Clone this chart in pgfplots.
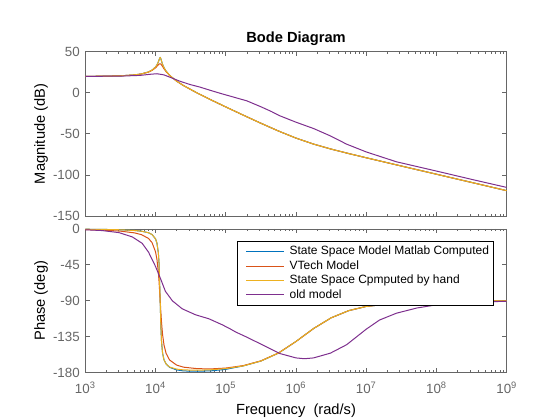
\documentclass[border=0pt]{standalone}
\usepackage{pgfplots}
\pgfplotsset{compat=1.18}
\usepackage{fontspec}
\setmainfont{Liberation Sans}
\definecolor{mblue}{rgb}{0,0.447,0.741}
\definecolor{mred}{rgb}{0.85,0.325,0.098}
\definecolor{myellow}{rgb}{0.929,0.694,0.125}
\definecolor{mpurple}{rgb}{0.494,0.184,0.556}
\definecolor{axgray}{rgb}{0.4,0.4,0.4}

\pgfplotsset{every axis plot/.append style={line width=0.75bp, line join=round},
  every axis title shift=0pt}

\begin{document}
\begin{tikzpicture}
\path[use as bounding box] (0,0) rectangle (420bp,315bp);

% ---------------- Magnitude ----------------
\begin{axis}[
  scale only axis, width=316.05bp, height=123.2bp,
  at={(63.98bp,153bp)}, anchor=south west,
  xmode=log, xmin=1e3, xmax=1e9,
  xtick={1e3,1e4,1e5,1e6,1e7,1e8,1e9},
  minor xtick={2e3,3e3,4e3,5e3,6e3,7e3,8e3,9e3,
               2e4,3e4,4e4,5e4,6e4,7e4,8e4,9e4,
               2e5,3e5,4e5,5e5,6e5,7e5,8e5,9e5,
               2e6,3e6,4e6,5e6,6e6,7e6,8e6,9e6,
               2e7,3e7,4e7,5e7,6e7,7e7,8e7,9e7,
               2e8,3e8,4e8,5e8,6e8,7e8,8e8,9e8},
  tick align=inside,
  major tick length=3.2bp, minor tick length=1.8bp,
  axis line style={axgray, line width=0.6bp},
  tick style={axgray, line width=0.6bp},
  tick label style={font=\fontsize{10bp}{12bp}\selectfont, text=axgray},
  yticklabel style={anchor=east, inner sep=0pt, xshift=-4bp},
  ymin=-150, ymax=50,
  ytick={-150,-100,-50,0,50}, yticklabels={-150,-100,-50,0,50},
  xticklabels={},
  ylabel={Magnitude (dB)},
  ylabel style={at={(axis description cs:-0.1051,0.5)}, anchor=center,
    font=\fontsize{11bp}{13bp}\selectfont, text=black},
  title={Bode Diagram},
  title style={at={(axis description cs:0.5,1.080)}, anchor=center,
    font=\fontsize{11bp}{13bp}\selectfont\bfseries, text=black},
]
\addplot[color=mblue, no markers] coordinates {
(1000,20.06) (1778,20.21) (3162,20.66) (5012,21.78) (6310,23.01) (7943,25.41)
(8913,27.59) (10000,31.41) (10471,33.94) (10965,37.68) (11220,40.18) (11641,43.10)
(11885,41.61) (12162,38.63) (12589,34.63) (13183,30.66) (14125,26.38) (15849,21.32)
(19953,14.24) (25119,8.73) (39811,-0.59) (63096,-9.05) (100000,-17.21) (177828,-27.23)
(316228,-37.07) (562341,-46.53) (1000000,-55.16) (1778279,-62.46) (3162278,-68.55)
(5623413,-73.96) (10000000,-79.09) (31622777,-89.15) (100000000,-99.16)
(316227766,-109.16) (1000000000,-119.16)
};
\addplot[color=mred, no markers] coordinates {
(1000,20.06) (1778,20.20) (3162,20.66) (5012,21.75) (6310,22.95) (7943,25.24)
(8913,27.25) (10000,30.46) (10471,32.23) (10965,34.16) (11220,34.96) (11641,35.39)
(11885,34.96) (12162,33.99) (12589,32.04) (13183,29.33) (14125,25.76) (15849,21.07)
(19953,14.16) (25119,8.70) (39811,-0.60) (63096,-9.05) (100000,-17.22) (177828,-27.23)
(316228,-37.07) (562341,-46.53) (1000000,-55.16) (1778279,-62.46) (3162278,-68.55)
(5623413,-73.96) (10000000,-79.09) (31622777,-89.15) (100000000,-99.16)
(316227766,-109.16) (1000000000,-119.16)
};
\addplot[color=myellow, no markers] coordinates {
(1000,20.06) (1778,20.21) (3162,20.66) (5012,21.78) (6310,23.01) (7943,25.41)
(8913,27.59) (10000,31.41) (10471,33.94) (10965,37.68) (11220,40.18) (11641,43.10)
(11885,41.61) (12162,38.63) (12589,34.63) (13183,30.66) (14125,26.38) (15849,21.32)
(19953,14.24) (25119,8.73) (39811,-0.59) (63096,-9.05) (100000,-17.21) (177828,-27.23)
(316228,-37.07) (562341,-46.53) (1000000,-55.16) (1778279,-62.46) (3162278,-68.55)
(5623413,-73.96) (10000000,-79.09) (31622777,-89.15) (100000000,-99.16)
(316227766,-109.16) (1000000000,-119.16)
};
\addplot[color=mpurple, no markers] coordinates {
(1000,20.0) (3162,20.3) (6026,21.2) (8511,22.6) (10471,23.2) (13183,21.8)
(16218,18.8) (22387,14.0) (30903,10.1) (42658,7.0) (60256,3.0) (83176,-0.6)
(114815,-4.0) (158489,-7.4) (199526,-9.8) (316228,-17.0) (446684,-22.8)
(588844,-28.0) (1000000,-35.8) (1778279,-43.5) (3090295,-52.5) (5248075,-62.5)
(10000000,-72.0) (26915348,-84.0) (100000000,-95.3) (331131121,-105.8)
(1000000000,-115.2)
};
\end{axis}

% ---------------- Phase ----------------
\begin{axis}[
  scale only axis, width=316.05bp, height=107.8bp,
  at={(63.98bp,35.48bp)}, anchor=south west,
  xmode=log, xmin=1e3, xmax=1e9,
  xtick={1e3,1e4,1e5,1e6,1e7,1e8,1e9},
  minor xtick={2e3,3e3,4e3,5e3,6e3,7e3,8e3,9e3,
               2e4,3e4,4e4,5e4,6e4,7e4,8e4,9e4,
               2e5,3e5,4e5,5e5,6e5,7e5,8e5,9e5,
               2e6,3e6,4e6,5e6,6e6,7e6,8e6,9e6,
               2e7,3e7,4e7,5e7,6e7,7e7,8e7,9e7,
               2e8,3e8,4e8,5e8,6e8,7e8,8e8,9e8},
  tick align=inside,
  major tick length=3.2bp, minor tick length=1.8bp,
  axis line style={axgray, line width=0.6bp},
  tick style={axgray, line width=0.6bp},
  tick label style={font=\fontsize{10bp}{12bp}\selectfont, text=axgray},
  yticklabel style={anchor=east, inner sep=0pt, xshift=-4bp},
  xticklabel style={anchor=north, inner sep=0pt, yshift=-7bp},
  ymin=-180, ymax=0,
  ytick={-180,-135,-90,-45,0}, yticklabels={-180,-135,-90,-45,0},
  xticklabels={10\textsuperscript{3},10\textsuperscript{4},10\textsuperscript{5},10\textsuperscript{6},10\textsuperscript{7},10\textsuperscript{8},10\textsuperscript{9}},
  xlabel={Frequency\ \ (rad/s)},
  xlabel style={at={(axis description cs:0.5,-0.2665)}, anchor=center,
    font=\fontsize{11bp}{13bp}\selectfont, text=black},
  ylabel={Phase (deg)},
  ylabel style={at={(axis description cs:-0.1051,0.5)}, anchor=center,
    font=\fontsize{11bp}{13bp}\selectfont, text=black},
  legend cell align=left,
  legend image code/.code={\path (0bp,0bp); \draw[#1] (3.4bp,0bp) -- (31.9bp,0bp);},
  legend style={at={(0.9682,0.9165)}, anchor=north east, draw=black,
    line width=0.6bp, fill=white, text=black,
    font=\fontsize{9bp}{10bp}\selectfont,
    inner xsep=2.9bp, inner ysep=3.3bp, row sep=1.8bp,
    nodes={inner sep=0pt, text height=6.8bp, text depth=2.2bp},
    /tikz/every odd column/.append style={column sep=3.75bp}},
]
\addplot[color=mblue, no markers] coordinates {
(1000,-0.30) (1778,-0.55) (3162,-1.03) (5012,-1.89) (6310,-2.78) (7943,-4.74)
(8913,-6.96) (10000,-12.46) (10471,-17.76) (10965,-29.79) (11220,-43.0) (11641,-89.46)
(11885,-120.08) (12162,-140.8) (12589,-155.4) (13183,-163.7) (14125,-169.15)
(15849,-173.3) (19953,-176.5) (25119,-177.8) (39811,-178.2) (63096,-177.6)
(100000,-175.8) (177828,-171.5) (316228,-165.4) (562341,-155.5) (1000000,-140.9)
(1778279,-124.7) (3162278,-111.3) (5623413,-102.3) (10000000,-97.0)
(31622777,-92.2) (100000000,-90.7) (316227766,-90.2) (1000000000,-90.1)
};
\addlegendentry{State Space Model Matlab Computed}
\addplot[color=mred, no markers] coordinates {
(1000,-0.80) (1778,-1.44) (3162,-2.71) (5012,-4.90) (6310,-7.14) (7943,-11.88)
(8913,-17.04) (10000,-28.65) (10471,-38.21) (10965,-54.32) (11220,-66.0) (11641,-89.46)
(11885,-103.16) (12162,-116.7) (12589,-132.1) (13183,-145.1) (14125,-155.75)
(15849,-164.1) (19953,-170.5) (25119,-173.1) (39811,-175.0) (63096,-175.2)
(100000,-174.2) (177828,-171.1) (316228,-165.2) (562341,-155.3) (1000000,-140.9)
(1778279,-124.7) (3162278,-111.3) (5623413,-102.3) (10000000,-97.0)
(31622777,-92.2) (100000000,-90.7) (316227766,-90.2) (1000000000,-90.1)
};
\addlegendentry{VTech Model}
\addplot[color=myellow, no markers] coordinates {
(1000,-0.30) (1778,-0.55) (3162,-1.03) (5012,-1.89) (6310,-2.78) (7943,-4.74)
(8913,-6.96) (10000,-12.46) (10471,-17.76) (10965,-29.79) (11220,-43.0) (11641,-89.46)
(11885,-120.08) (12162,-140.8) (12589,-155.4) (13183,-163.7) (14125,-169.15)
(15849,-172.9) (19953,-175.5) (25119,-176.5) (39811,-176.9) (63096,-176.3)
(100000,-174.9) (177828,-171.5) (316228,-165.4) (562341,-155.5) (1000000,-140.9)
(1778279,-124.7) (3162278,-111.3) (5623413,-102.3) (10000000,-97.0)
(31622777,-92.2) (100000000,-90.7) (316227766,-90.2) (1000000000,-90.1)
};
\addlegendentry{State Space Cpmputed by hand}
\addplot[color=mpurple, no markers] coordinates {
(1000,-1.0) (1738,-2.0) (3020,-4.6) (4677,-10) (6457,-18) (7943,-29)
(10000,-47) (11749,-62) (13804,-78) (17378,-90) (23988,-100) (37154,-107.5)
(57544,-112.5) (89125,-120) (114815,-125) (138038,-129) (199526,-135.5)
(338844,-145.5) (588844,-156) (1000000,-161.5) (1318257,-162.5) (1778279,-161.5)
(3090295,-155.5) (5248075,-145) (10000000,-125.5) (15488166,-114)
(26915348,-105.5) (52480746,-99) (100000000,-95) (239883292,-92.3)
(1000000000,-90.5)
};
\addlegendentry{old model}
\end{axis}
\end{tikzpicture}
\end{document}
